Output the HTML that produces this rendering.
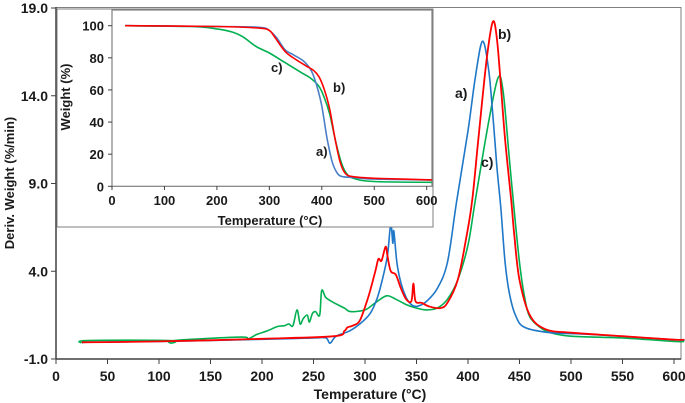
<!DOCTYPE html>
<html><head><meta charset="utf-8"><style>
body{margin:0;background:#fff}
svg{display:block}
text{font-family:"Liberation Sans",Arial,sans-serif;font-weight:bold}
</style></head><body>
<svg id="c" width="685" height="403" viewBox="0 0 685 403" xmlns="http://www.w3.org/2000/svg"></svg>
<script>
// Main DTG data
const dtgBlueT=[25,100,200,250,262,266,272,285,295,305,312,318,322,325,327,328,331,335,340,345,350,355,360,370,380,389,400,407,414,420,424,428,432,436,440,446,455,480,520,600,610];
const dtgBlueV=[-0.05,0.0,0.12,0.2,0.2,-0.1,0.3,0.6,1.0,1.6,2.5,3.8,5.0,6.7,5.6,6.3,4.5,3.3,2.5,2.1,2.0,2.1,2.3,3.0,4.5,8.0,12.0,15.0,17.1,15.5,13,10,7.5,4.5,2.8,1.5,0.8,0.5,0.4,0.1,0.1];
const dtgRedT=[25,100,200,270,280,283,288,295,303,310,313,316,320,322,325,330,335,340,345,347,349,355,362,373,380,390,398,404,410,418,424,428,432,436,442,445,450,460,475,500,550,600,610];
const dtgRedV=[-0.05,0.0,0.15,0.3,0.6,0.8,0.9,1.2,2.5,4.0,4.7,4.6,5.4,4.8,4.0,3.8,3.0,2.4,2.3,3.3,2.3,2.2,2.0,1.9,2.2,3.5,5.8,8.0,11.5,16.0,18.2,17.3,14.5,11.5,8.0,6.0,3.5,1.5,0.7,0.5,0.3,0.1,0.1];
const dtgGreenT=[25,30,110,112,115,180,185,195,205,215,222,226,230,234,237,240,244,246,249,252,256,258,262,270,280,286,300,310,321,330,340,350,360,370,380,390,400,407,420,429,434,440,444,450,455,460,470,480,500,550,600,610];
const dtgGreenV=[-0.1,0.05,0.05,-0.1,0.05,0.25,0.1,0.4,0.6,0.85,0.9,1.0,0.9,1.8,1.0,1.3,1.5,1.1,1.6,1.7,1.5,2.9,2.5,2.2,1.9,1.7,1.8,2.2,2.6,2.4,2.1,1.9,1.8,1.9,2.4,3.5,5.5,8.0,12.5,15.0,14.3,10.5,8.0,4.5,2.5,1.4,0.8,0.5,0.3,0.2,0.0,0.0];
const xTicks=[0,50,100,150,200,250,300,350,400,450,500,550,600];
const yTicks=[-1.0,4.0,9.0,14.0,19.0];
// Inset TGA data
const tgaBlueT=[25,200,280,300,315,330,345,365,380,390,400,410,420,430,440,460,500,610];
const tgaBlueV=[100,99.5,99,97,92,85,82,78,72,63,50,30,15,8,6,5.5,4.5,4];
const tgaRedT=[25,200,280,300,310,330,350,370,385,395,405,415,425,435,445,460,500,610];
const tgaRedV=[100,99.5,98.5,97,93,84,79,75,72,68,60,48,30,15,8,6,5,4];
const tgaGreenT=[25,150,200,230,250,275,300,330,360,380,395,405,415,425,435,445,460,500,610];
const tgaGreenV=[100,99.5,98,96,93,87,83,77,71,67,62,55,45,30,17,9,5,3,2.5];
const ixTicks=[0,100,200,300,400,500,600];
const iyTicks=[0,20,40,60,80,100];

const NS="http://www.w3.org/2000/svg";
const svg=document.getElementById('c');
function mk(tag,attrs,parent){const e=document.createElementNS(NS,tag);for(const k in attrs)e.setAttribute(k,attrs[k]);(parent||svg).appendChild(e);return e;}
const mx=t=>56+(t)*1.03;
const my=v=>359-(v+1)*17.55;
const ix=t=>112+t*0.5245;
const iy=v=>186.3-v*1.606;

let e;
e=mk('rect',{x:56,y:7.5,width:625,height:351.5,fill:'none',stroke:'#7f7f7f','stroke-width':1});


e=mk('line',{x1:56,y1:7,x2:56,y2:359,stroke:'#404040','stroke-width':1.5});


e=mk('line',{x1:56,y1:359,x2:681,y2:359,stroke:'#404040','stroke-width':1.5});


xTicks.forEach(t=>{
  mk('line',{x1:mx(t),y1:359,x2:mx(t),y2:364,stroke:'#404040'});
  e=mk('text',{x:mx(t),y:381,'text-anchor':'middle','font-size':14,'font-weight':'bold',fill:'#1a1a1a'});
  e.textContent=t;
  
  
});
yTicks.forEach(v=>{
  mk('line',{x1:51,y1:my(v),x2:56,y2:my(v),stroke:'#404040'});
  e=mk('text',{x:48,y:my(v)+5,'text-anchor':'end','font-size':14,'font-weight':'bold',fill:'#1a1a1a'});
  e.textContent=v.toFixed(1);
  
  
});
e=mk('text',{x:370,y:399,'text-anchor':'middle','font-size':14,'font-weight':'bold',fill:'#1a1a1a'});
e.textContent='Temperature (°C)';


e=mk('text',{x:0,y:0,transform:'translate(14,183) rotate(-90)','text-anchor':'middle','font-size':13,'font-weight':'bold',fill:'#1a1a1a'});
e.textContent='Deriv. Weight (%/min)';



function line(T,V,fx,fy,color,name,w){
  const P=T.map((t,i)=>[fx(t),fy(V[i])]);
  let d='M'+P[0][0].toFixed(1)+','+P[0][1].toFixed(1);
  for(let i=0;i<P.length-1;i++){
    const p0=P[i-1]||P[i],p1=P[i],p2=P[i+1],p3=P[i+2]||P[i+1];
    const c1=[p1[0]+(p2[0]-p0[0])/6,p1[1]+(p2[1]-p0[1])/6];
    const c2=[p2[0]-(p3[0]-p1[0])/6,p2[1]-(p3[1]-p1[1])/6];
    d+=' C'+c1[0].toFixed(1)+','+c1[1].toFixed(1)+' '+c2[0].toFixed(1)+','+c2[1].toFixed(1)+' '+p2[0].toFixed(1)+','+p2[1].toFixed(1);
  }
  const p=mk('path',{d:d,fill:'none',stroke:color,'stroke-width':w,'stroke-linejoin':'round'});
  
  
}
line(dtgGreenT,dtgGreenV,mx,my,'#00b050','dtg-series-c',1.6);
line(dtgBlueT,dtgBlueV,mx,my,'#1f77c8','dtg-series-a',1.6);
line(dtgRedT,dtgRedV,mx,my,'#ff0000','dtg-series-b',1.8);
[['a)',455,98,'label-a'],['b)',498,39,'label-b'],['c)',481,167,'label-c']].forEach(l=>{
  e=mk('text',{x:l[1],y:l[2],'font-size':14,'font-weight':'bold',fill:'#1a1a1a'});e.textContent=l[0];
  
  
});

// inset
e=mk('rect',{x:57,y:9,width:376,height:218,fill:'#fff',stroke:'#7f7f7f','stroke-width':1});


e=mk('rect',{x:112,y:10,width:320,height:176.3,fill:'none',stroke:'#808080','stroke-width':1.2});


ixTicks.forEach(t=>{
  mk('line',{x1:ix(t),y1:186,x2:ix(t),y2:190,stroke:'#404040'});
  e=mk('text',{x:ix(t),y:205,'text-anchor':'middle','font-size':13,'font-weight':'bold',fill:'#1a1a1a'});
  e.textContent=t;
  
  
});
iyTicks.forEach(v=>{
  mk('line',{x1:108,y1:iy(v),x2:112,y2:iy(v),stroke:'#404040'});
  e=mk('text',{x:104,y:iy(v)+5,'text-anchor':'end','font-size':13,'font-weight':'bold',fill:'#1a1a1a'});
  e.textContent=v;
  
  
});
e=mk('text',{x:270,y:225,'text-anchor':'middle','font-size':13,'font-weight':'bold',fill:'#1a1a1a'});
e.textContent='Temperature (°C)';


e=mk('text',{x:0,y:0,transform:'translate(70,97) rotate(-90)','text-anchor':'middle','font-size':13,'font-weight':'bold',fill:'#1a1a1a'});
e.textContent='Weight (%)';


line(tgaGreenT,tgaGreenV,ix,iy,'#00b050','tga-series-c',1.6);
line(tgaBlueT,tgaBlueV,ix,iy,'#4a7fc8','tga-series-a',1.6);
line(tgaRedT,tgaRedV,ix,iy,'#ff0000','tga-series-b',1.6);
[['c)',271,72,'inset-label-c'],['b)',333,92,'inset-label-b'],['a)',316,156,'inset-label-a']].forEach(l=>{
  e=mk('text',{x:l[1],y:l[2],'font-size':13,'font-weight':'bold',fill:'#1a1a1a'});e.textContent=l[0];
  
  
});
</script>
</body></html>
